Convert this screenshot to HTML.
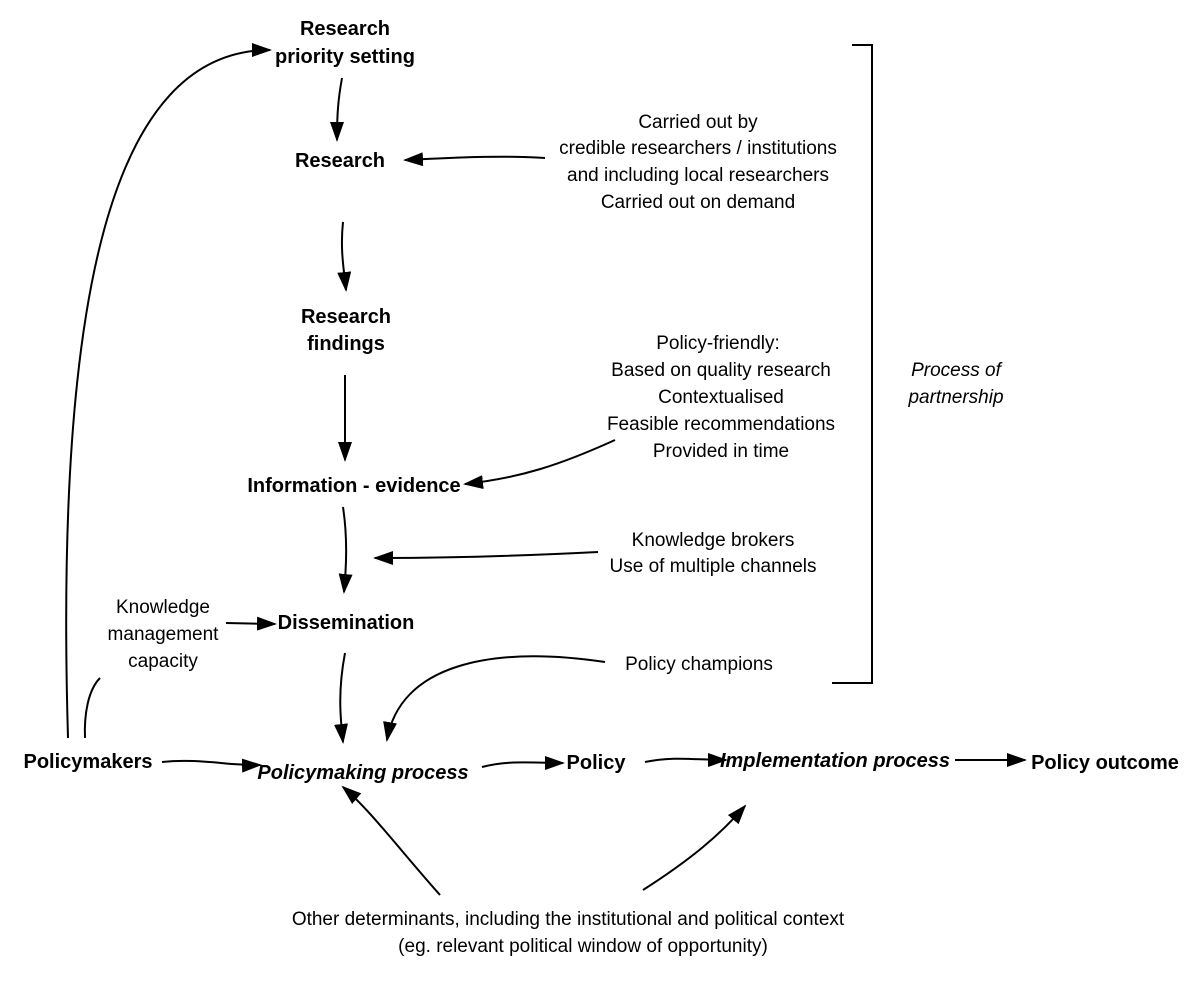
<!DOCTYPE html>
<html><head><meta charset="utf-8"><style>
html,body{margin:0;padding:0;background:#fff;}
svg{display:block;}
text{font-family:"Liberation Sans Narrow","Liberation Sans",sans-serif;fill:#000;}
.b{font-weight:bold;font-size:20px;}
.r{font-size:19px;}
.bi{font-weight:bold;font-style:italic;font-size:20px;}
.i{font-style:italic;font-size:19px;}
</style></head><body>
<svg width="1200" height="987" viewBox="0 0 1200 987">
<defs>
<marker id="a" markerWidth="20" markerHeight="14" refX="18" refY="7" orient="auto" markerUnits="userSpaceOnUse">
<path d="M0,0 L20,7 L0,14 Z" fill="#000"/>
</marker>
</defs>
<g text-anchor="middle">
<text class="b" x="345" y="35">Research</text>
<text class="b" x="345" y="63">priority setting</text>
<text class="b" x="340" y="167">Research</text>
<text class="b" x="346" y="323">Research</text>
<text class="b" x="346" y="350">findings</text>
<text class="b" x="354" y="492">Information - evidence</text>
<text class="b" x="346" y="629">Dissemination</text>
<text class="b" x="88" y="768">Policymakers</text>
<text class="bi" x="363" y="779">Policymaking process</text>
<text class="b" x="596" y="769">Policy</text>
<text class="bi" x="835" y="767">Implementation process</text>
<text class="b" x="1105" y="769">Policy outcome</text>

<text class="r" x="698" y="128">Carried out by</text>
<text class="r" x="698" y="154">credible researchers / institutions</text>
<text class="r" x="698" y="181">and including local researchers</text>
<text class="r" x="698" y="208">Carried out on demand</text>

<text class="r" x="718" y="349">Policy-friendly:</text>
<text class="r" x="721" y="376">Based on quality research</text>
<text class="r" x="721" y="403">Contextualised</text>
<text class="r" x="721" y="430">Feasible recommendations</text>
<text class="r" x="721" y="457">Provided in time</text>

<text class="r" x="713" y="546">Knowledge brokers</text>
<text class="r" x="713" y="572">Use of multiple channels</text>
<text class="r" x="699" y="670">Policy champions</text>

<text class="r" x="163" y="613">Knowledge</text>
<text class="r" x="163" y="640">management</text>
<text class="r" x="163" y="667">capacity</text>

<text class="i" x="956" y="376">Process of</text>
<text class="i" x="956" y="403">partnership</text>

<text class="r" x="568" y="925">Other determinants, including the institutional and political context</text>
<text class="r" x="583" y="952">(eg. relevant political window of opportunity)</text>
</g>

<g fill="none" stroke="#000" stroke-width="2">
<path d="M852,45 L872,45 L872,683 L832,683"/>
<path d="M68,738 C55,300 110,50 270,50" marker-end="url(#a)"/>
<path d="M342,78 C338,100 337,115 337,140" marker-end="url(#a)"/>
<path d="M545,158 C500,155 450,158 405,160" marker-end="url(#a)"/>
<path d="M343,222 C340,250 344,270 346,290" marker-end="url(#a)"/>
<path d="M345,375 L345,460" marker-end="url(#a)"/>
<path d="M615,440 C560,465 520,478 465,484" marker-end="url(#a)"/>
<path d="M343,507 C348,540 346,570 344,592" marker-end="url(#a)"/>
<path d="M598,552 C520,556 440,558 375,558" marker-end="url(#a)"/>
<path d="M226,623 L275,624" marker-end="url(#a)"/>
<path d="M100,678 C88,690 84,715 85,738"/>
<path d="M345,653 C338,690 340,715 343,742" marker-end="url(#a)"/>
<path d="M605,662 C490,645 400,665 387,740" marker-end="url(#a)"/>
<path d="M162,762 C200,758 230,766 260,765" marker-end="url(#a)"/>
<path d="M482,767 C510,760 530,763 563,763" marker-end="url(#a)"/>
<path d="M645,762 C675,756 695,760 726,760" marker-end="url(#a)"/>
<path d="M955,760 L1025,760" marker-end="url(#a)"/>
<path d="M440,895 C400,850 370,810 343,787" marker-end="url(#a)"/>
<path d="M643,890 C690,860 720,835 745,806" marker-end="url(#a)"/>
</g>
</svg>
</body></html>
